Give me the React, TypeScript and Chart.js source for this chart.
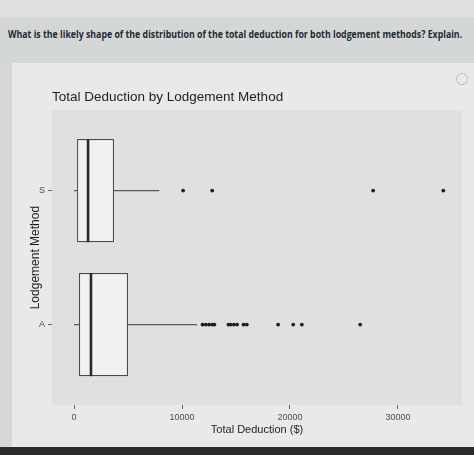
import React, { useEffect, useRef } from 'react';
import { Chart, registerables } from 'chart.js';

Chart.register(...registerables);

const methods = ['A', 'S'];
const methodPos = [1, 2];
const mins = [0, 0];
const q1s = [460, 280];
const medians = [1570, 1300];
const q3s = [5000, 3700];
const maxs = [11400, 7900];
const outliersA = [11900, 12200, 12500, 12800, 13000, 14300, 14500, 14800, 15100, 15700, 16000, 18900, 20300, 21100, 26500];
const outliersS = [10100, 12800, 27700, 34200];
const xTicks = [0, 10000, 20000, 30000];

const question = 'What is the likely shape of the distribution of the total deduction for both lodgement methods? Explain.';

const panelPlugin = {
  id: 'panelBg',
  beforeDraw(chart: any) {
    const { ctx, chartArea: a } = chart;
    ctx.save();
    ctx.fillStyle = '#dfe1df';
    ctx.fillRect(a.left, a.top, a.right - a.left, a.bottom - a.top);
    ctx.restore();
  },
};

const boxPlugin = {
  id: 'boxParts',
  beforeDatasetsDraw(chart: any) {
    const { ctx } = chart;
    const xs = chart.scales.x;
    const ys = chart.scales.y;
    ctx.save();
    ctx.strokeStyle = '#5a5a5a';
    ctx.lineWidth = 1.2;
    methodPos.forEach((p, i) => {
      const y = ys.getPixelForValue(p);
      ctx.beginPath();
      ctx.moveTo(xs.getPixelForValue(mins[i]), y);
      ctx.lineTo(xs.getPixelForValue(q1s[i]), y);
      ctx.moveTo(xs.getPixelForValue(q3s[i]), y);
      ctx.lineTo(xs.getPixelForValue(maxs[i]), y);
      ctx.stroke();
    });
    ctx.restore();
  },
  afterDatasetsDraw(chart: any) {
    const { ctx } = chart;
    const xs = chart.scales.x;
    const meta = chart.getDatasetMeta(0);
    ctx.save();
    ctx.strokeStyle = '#2a2a2a';
    ctx.lineWidth = 2.6;
    methodPos.forEach((p, i) => {
      const el: any = meta.data[i];
      const x = xs.getPixelForValue(medians[i]);
      ctx.beginPath();
      ctx.moveTo(x, el.y - el.height / 2);
      ctx.lineTo(x, el.y + el.height / 2);
      ctx.stroke();
    });
    ctx.restore();
  },
};

export default function App() {
  const canvasRef = useRef<HTMLCanvasElement | null>(null);
  const textRef = useRef<HTMLDivElement | null>(null);

  useEffect(() => {
    const t = textRef.current;
    if (t) {
      const w = t.scrollWidth;
      if (w > 0) t.style.transform = `scaleX(${454 / w})`;
    }
    const canvas = canvasRef.current;
    if (!canvas) return;
    const chart = new Chart(canvas, {
      type: 'bar',
      data: {
        datasets: [
          {
            type: 'bar',
            indexAxis: 'y',
            data: methodPos.map((p, i) => ({ y: p, x: [q1s[i], q3s[i]] })) as any,
            backgroundColor: '#f1f1f0',
            borderColor: '#4a4a4a',
            borderWidth: 1.2,
            borderSkipped: false,
            barPercentage: 0.77,
            categoryPercentage: 1,
          } as any,
          {
            type: 'scatter',
            data: outliersA.map((v) => ({ x: v, y: methodPos[0] })),
            pointRadius: 1.9,
            backgroundColor: '#1e1e1e',
            borderWidth: 0,
          } as any,
          {
            type: 'scatter',
            data: outliersS.map((v) => ({ x: v, y: methodPos[1] })),
            pointRadius: 1.9,
            backgroundColor: '#1e1e1e',
            borderWidth: 0,
          } as any,
        ],
      },
      options: {
        animation: false,
        responsive: false,
        maintainAspectRatio: false,
        layout: { padding: { top: 0, right: 12, bottom: 0, left: 0 } },
        plugins: {
          legend: { display: false },
          tooltip: { enabled: false },
          title: {
            display: true,
            text: 'Total Deduction by Lodgement Method',
            align: 'start',
            fullSize: false,
            color: '#222222',
            font: { family: 'Liberation Sans', size: 13.5, weight: 'normal' },
            padding: { top: 89, bottom: 5 },
          },
        },
        scales: {
          x: {
            type: 'linear',
            offset: false,
            min: -2040,
            max: 35930,
            afterBuildTicks: (s: any) => {
              s.ticks = xTicks.map((v) => ({ value: v }));
            },
            afterFit: (s: any) => {
              s.height = 50;
            },
            grid: { offset: false, drawOnChartArea: false, drawTicks: true, tickLength: 4, color: '#666666' },
            border: { display: false },
            ticks: {
              color: '#4d4d4d',
              font: { family: 'Liberation Sans', size: 9 },
              padding: 3,
              maxRotation: 0,
              callback: (v: any) => String(v),
            },
            title: {
              display: true,
              text: 'Total Deduction ($)',
              color: '#1e1e1e',
              font: { family: 'Liberation Sans', size: 11 },
              padding: { top: 0, bottom: 18 },
            },
          },
          y: {
            type: 'linear',
            offset: false,
            min: 0.4,
            max: 2.6,
            afterBuildTicks: (s: any) => {
              s.ticks = methodPos.map((v) => ({ value: v }));
            },
            afterFit: (s: any) => {
              s.width = 52;
            },
            grid: { offset: false, drawOnChartArea: false, drawTicks: true, tickLength: 4, color: '#666666' },
            border: { display: false },
            ticks: {
              color: '#4d4d4d',
              font: { family: 'Liberation Sans', size: 9 },
              padding: 3,
              callback: (v: any) => methods[methodPos.indexOf(v)] ?? '',
            },
            title: {
              display: true,
              text: 'Lodgement Method',
              color: '#1e1e1e',
              font: { family: 'Liberation Sans', size: 12 },
              padding: { top: 28, bottom: 0 },
            },
          },
        },
      } as any,
      plugins: [panelPlugin, boxPlugin],
    });
    return () => chart.destroy();
  }, []);

  return (
    <div style={{ position: 'fixed', left: 0, top: 0, width: 474, height: 455, overflow: 'hidden', background: '#e8eae9' }}>
      <div style={{ position: 'absolute', left: 0, top: 0, width: 474, height: 17, background: '#dfe1e0' }} />
      <div style={{ position: 'absolute', left: 0, top: 17, width: 474, height: 46, background: '#d3d8d6' }} />
      <div
        ref={textRef}
        style={{
          position: 'absolute',
          left: 8,
          top: 27,
          whiteSpace: 'nowrap',
          transformOrigin: '0 0',
          fontFamily: '"Open Sans", "Liberation Sans", sans-serif',
          fontWeight: 700,
          fontSize: 10.5,
          lineHeight: '14px',
          color: '#1f2a33',
        }}
      >
        {question}
      </div>
      <div style={{ position: 'absolute', left: 0, top: 63, width: 12, height: 384, background: '#d5d8d7' }} />
      <div style={{ position: 'absolute', left: 0, top: 447, width: 474, height: 8, background: '#2b2d2d' }} />
      <div
        style={{
          position: 'absolute',
          left: 456,
          top: 73,
          width: 12,
          height: 12,
          borderRadius: 6,
          border: '1.5px dotted #8a8f8e',
          boxSizing: 'border-box',
        }}
      />
      <canvas ref={canvasRef} width={474} height={455} style={{ position: 'absolute', left: 0, top: 0, width: 474, height: 455 }} />
    </div>
  );
}
